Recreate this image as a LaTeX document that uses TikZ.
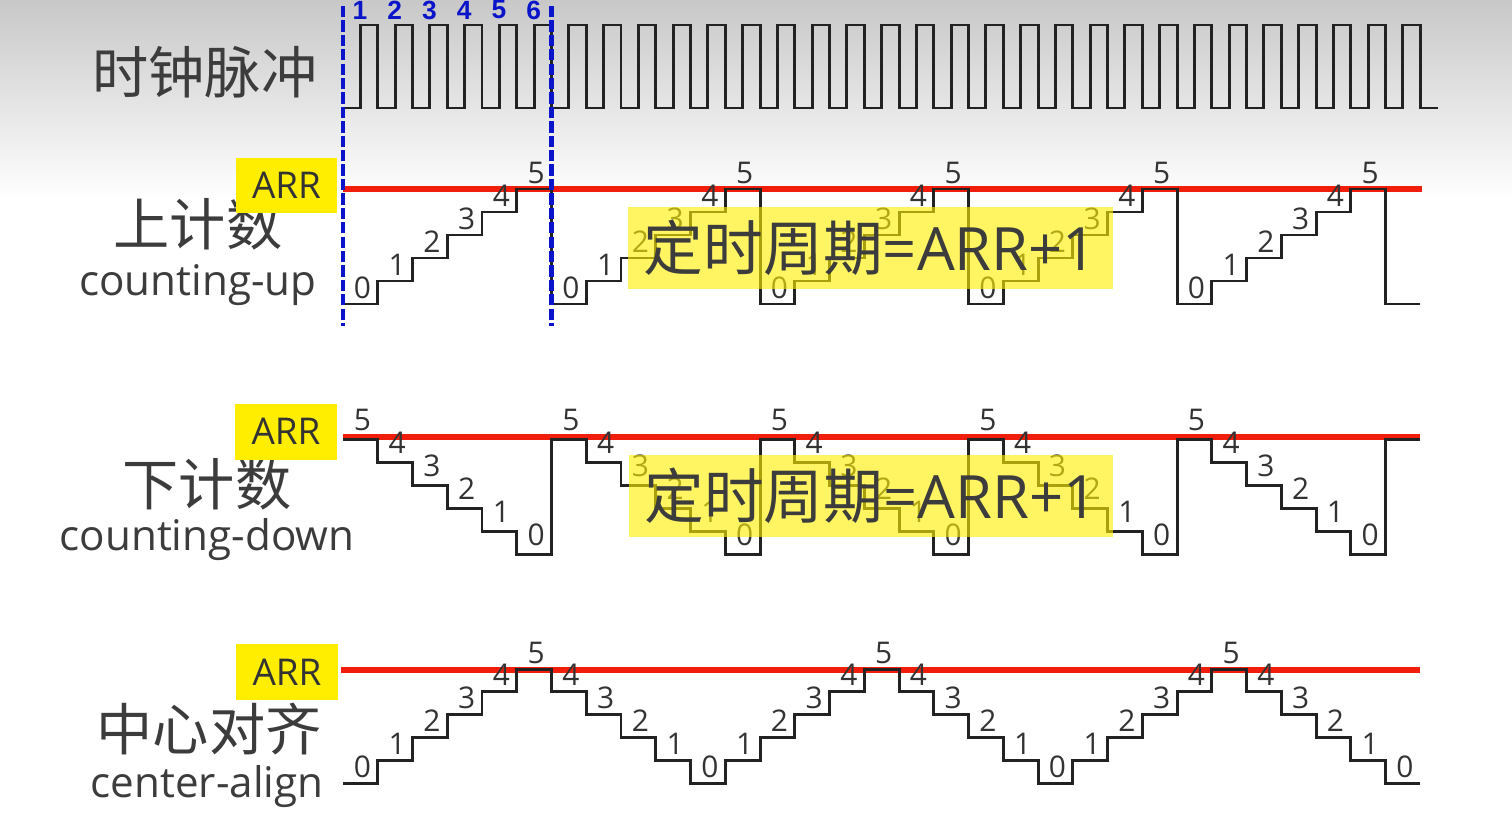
\documentclass[tikz,border=0pt]{standalone}
\usepackage{fontspec}
\setmainfont{Open Sans}
\newfontfamily\cjk{Noto Sans CJK SC}
\newfontfamily\tickfont{Liberation Sans}
\definecolor{txtgray}{HTML}{3C3C3C}
\definecolor{numgray}{HTML}{333333}
\definecolor{wavegray}{HTML}{222222}
\definecolor{arrred}{HTML}{F01E0A}
\definecolor{syncblue}{HTML}{0A14C8}
\definecolor{arryellow}{HTML}{FFEE00}
\definecolor{bgtop}{HTML}{C8C8C8}

\begin{document}
\begin{tikzpicture}[x=0.02cm, y=-0.02cm, every node/.style={inner sep=0pt},
  wave/.style={draw=wavegray, line width=1.7pt},
  arrline/.style={draw=arrred, line width=3.4pt},
  sync/.style={draw=syncblue, line width=2.6pt, dash pattern=on 6.4pt off 1.8pt},
  num/.style={anchor=base, text=numgray, font=\fontsize{17}{17}\selectfont},
  tick/.style={text=syncblue, font=\tickfont\bfseries\fontsize{15}{15}\selectfont},
  arrbox/.style={fill=arryellow, text=numgray, minimum width=2.04cm, minimum height=1.12cm, font=\fontsize{21}{21}\selectfont},
  modename/.style={text=txtgray, font=\cjk\fontsize{32}{32}\selectfont},
  modeeng/.style={anchor=base, text=txtgray, font=\fontsize{24}{24}\selectfont},
  period/.style={fill=arryellow, fill opacity=0.62, text opacity=1, text=txtgray, minimum width=9.7cm, minimum height=1.64cm, font=\fontsize{34}{34}\selectfont}]
\useasboundingbox (0,0) rectangle (1512,812);
\shade[top color=bgtop, bottom color=white] (0,0) rectangle (1512,200);
\fill[white] (0,200) rectangle (1512,812);

% clock
\node[modename] (clk) at (205,72) {时钟脉冲};
\draw[wave] (343,108) \foreach \k in {0,...,30}{ -- ({360.375+34.75*\k},108) -- ({360.375+34.75*\k},25) -- ({377.75+34.75*\k},25) -- ({377.75+34.75*\k},108) } -- (1438,108);
\foreach \i in {1,...,6}
  \node[tick] (t\i) at ({360+34.75*(\i-1)},10) {\i};

% counting up
\node[modename] (lup) at (198,224) {上计数};
\node[modeeng] (lupen) at (198,295) {counting-up};
\node[arrbox] (arrup) at (286.5,185.5) {ARR};
\draw[arrline] (343,189) -- (1422,189);
\draw[wave] (343,304) \foreach \c in {0,...,4}{\foreach \n in {0,...,5}{ -- ({343+34.75*(6*\c+\n)},{304-23*\n}) -- ({343+34.75*(6*\c+\n+1)},{304-23*\n}) }} -- (1385.5,304) -- (1420,304);
\foreach \c in {0,...,4}
  \foreach \n in {0,...,5}
    \node[num] (u\c\n) at ({345+34.75*(6*\c+\n+0.5)},{298-23*\n}) {\n};

% counting down
\node[modename] (ldn) at (207,484) {下计数};
\node[modeeng] (ldnen) at (207,550) {counting-down};
\node[arrbox] (arrdn) at (286,431.5) {ARR};
\draw[arrline] (343,437) -- (1420,437);
\draw[wave] (343,439) \foreach \c in {0,...,4}{\foreach \n in {0,...,5}{ -- ({343+34.75*(6*\c+\n)},{439+23*\n}) -- ({343+34.75*(6*\c+\n+1)},{439+23*\n}) }} -- (1385.5,439) -- (1420,439);
\foreach \c in {0,...,4}
  \foreach \n in {0,...,5}
    \node[num] (d\c\n) at ({345+34.75*(6*\c+\n+0.5)},{430+23*\n}) {\number\numexpr5-\n\relax};

% center-aligned
\node[modename] (lca) at (209,729) {中心对齐};
\node[modeeng] (lcaen) at (207,797) {center-align};
\node[arrbox] (arrca) at (287,672) {ARR};
\draw[arrline] (341,670) -- (1420,670);
\draw[wave] (343,783) \foreach \k in {0,...,30}{ -- ({343+34.75*\k},{783-22.8*abs(mod(\k+5,10)-5)}) -- ({343+34.75*(\k+1)},{783-22.8*abs(mod(\k+5,10)-5)}) };
\foreach \k in {0,...,30}{
  \pgfmathtruncatemacro{\lv}{abs(mod(\k+5,10)-5)}
  \node[num] (c\k) at ({345+34.75*(\k+0.5)},{777-22.8*\lv}) {\lv};
}

% one timer period
\draw[sync] (343,6) -- (343,326);
\draw[sync] (551.5,6) -- (551.5,326);

\node[period] (perup) at (870.5,248) {{\cjk 定时周期}=ARR+1};
\node[period] (perdn) at (871,495.5) {{\cjk 定时周期}=ARR+1};
\end{tikzpicture}
\end{document}
